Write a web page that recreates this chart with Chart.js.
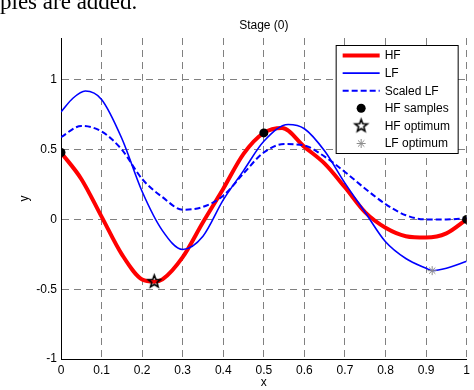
<!DOCTYPE html>
<html><head><meta charset="utf-8">
<script src="https://cdn.jsdelivr.net/npm/chart.js@4"></script>
<style>
html,body{margin:0;padding:0;background:#fff;}
#wrap{position:relative;width:474px;height:390px;overflow:hidden;background:#fff;}
#note{position:absolute;left:0;top:-11px;font-family:"Liberation Serif","Times New Roman",serif;font-size:23px;line-height:26px;color:#000;white-space:nowrap;}
canvas{position:absolute;left:0;top:0;}
</style></head>
<body><div id="wrap"><canvas id="c" width="474" height="390"></canvas><div id="note">ples are added.</div></div>
<script>
// ---- data ----
const hfX = [0,0.05,0.1,0.15,0.2,0.23,0.25,0.3,0.35,0.4,0.45,0.5,0.545,0.6,0.65,0.7,0.75,0.8,0.85,0.9,0.95,1];
const hfY = [0.48,0.29,0.02,-0.25,-0.43,-0.446,-0.43,-0.27,-0.02,0.22,0.47,0.62,0.655,0.52,0.40,0.23,0.05,-0.06,-0.12,-0.13,-0.10,0.0];

const lfX = [0,0.03,0.06,0.1,0.15,0.2,0.25,0.3,0.35,0.4,0.45,0.5,0.56,0.6,0.65,0.7,0.75,0.8,0.85,0.9,0.915,0.95,1];
const lfY = [0.77,0.87,0.92,0.86,0.58,0.20,-0.08,-0.215,-0.12,0.14,0.35,0.56,0.68,0.65,0.49,0.26,0.05,-0.16,-0.28,-0.35,-0.367,-0.35,-0.30];

const scaledX = [0,0.05,0.1,0.15,0.2,0.25,0.3,0.35,0.4,0.45,0.5,0.55,0.6,0.65,0.7,0.75,0.8,0.85,0.9,0.95,1];
const scaledY = [0.59,0.67,0.63,0.50,0.29,0.16,0.07,0.09,0.17,0.33,0.48,0.54,0.53,0.45,0.34,0.22,0.11,0.03,0.0,0.0,0.01];

const sampleX = [0,0.5,1];
const sampleY = [0.48,0.62,0.0];
const hfOptX = [0.23];
const hfOptY = [-0.446];
const lfOptX = [0.915];
const lfOptY = [-0.367];

const xTicks = [0,0.1,0.2,0.3,0.4,0.5,0.6,0.7,0.8,0.9,1];
const xTickLabels = ['0','0.1','0.2','0.3','0.4','0.5','0.6','0.7','0.8','0.9','1'];
const yTicks = [-1,-0.5,0,0.5,1];
const yTickLabels = ['-1','-0.5','0','0.5','1'];
const labels = ['HF','LF','Scaled LF','HF samples','HF optimum','LF optimum'];
const titleText = 'Stage (0)';

// ---- helpers ----
const toPts = (xs, ys) => xs.map((x, i) => ({x: x, y: ys[i]}));
function starImage(r, lw) {
  const s = Math.ceil(2 * r + lw * 2 + 2);
  const c = document.createElement('canvas'); c.width = s; c.height = s;
  const g = c.getContext('2d');
  g.beginPath();
  for (let i = 0; i < 10; i++) {
    const rad = i % 2 ? r * 0.42 : r;
    const a = -Math.PI / 2 + i * Math.PI / 5;
    const px = s / 2 + rad * Math.cos(a), py = s / 2 + rad * Math.sin(a);
    if (i) g.lineTo(px, py); else g.moveTo(px, py);
  }
  g.closePath(); g.lineWidth = lw; g.strokeStyle = '#000'; g.stroke();
  return c;
}
const starImg = starImage(6.5, 1.6);
function drawAsterisk(ctx, x, y, r, color) {
  ctx.save(); ctx.strokeStyle = color; ctx.lineWidth = 1; ctx.beginPath();
  for (let i = 0; i < 4; i++) {
    const a = i * Math.PI / 4;
    ctx.moveTo(x - r * Math.cos(a), y - r * Math.sin(a));
    ctx.lineTo(x + r * Math.cos(a), y + r * Math.sin(a));
  }
  ctx.stroke(); ctx.restore();
}

const legendPlugin = {
  id: 'insideLegend',
  afterDraw(chart) {
    const ctx = chart.ctx, ca = chart.chartArea;
    const w = 122, h = 108;
    const x0 = ca.right - 9 - w, y0 = ca.top + 7;
    ctx.save();
    ctx.fillStyle = '#fff'; ctx.fillRect(x0, y0, w, h);
    ctx.strokeStyle = '#000'; ctx.lineWidth = 1; ctx.strokeRect(x0 + 0.5, y0 + 0.5, w, h);
    ctx.font = '12px "Liberation Sans", Arial, sans-serif';
    ctx.textBaseline = 'middle'; ctx.textAlign = 'left';
    const ds = chart.data.datasets;
    for (let i = 0; i < ds.length; i++) {
      const d = ds[i];
      const cy = y0 + 10.5 + i * 17.6;
      const lx0 = x0 + 7, lx1 = x0 + 44, mx = (lx0 + lx1) / 2;
      if (d.showLine !== false) {
        ctx.save(); ctx.strokeStyle = d.borderColor; ctx.lineWidth = d.borderWidth;
        ctx.setLineDash(d.borderDash || []); ctx.beginPath();
        ctx.moveTo(lx0, cy); ctx.lineTo(lx1, cy); ctx.stroke(); ctx.restore();
      } else if (d.pointStyle === 'circle') {
        ctx.fillStyle = '#000'; ctx.beginPath(); ctx.arc(mx, cy, 4.5, 0, Math.PI * 2); ctx.fill();
      } else if (d.pointStyle === 'star') {
        drawAsterisk(ctx, mx, cy, 4.5, d.borderColor);
      } else {
        ctx.drawImage(starImg, mx - starImg.width / 2, cy - starImg.height / 2);
      }
      ctx.fillStyle = '#000';
      ctx.fillText(d.label, x0 + 49, cy + 0.5);
    }
    ctx.restore();
  }
};

const lineBase = {showLine: true, pointRadius: 0, cubicInterpolationMode: 'monotone', fill: false};

new Chart(document.getElementById('c'), {
  type: 'scatter',
  data: {
    datasets: [
      Object.assign({}, lineBase, {label: labels[0], data: toPts(hfX, hfY), borderColor: '#ff0000', borderWidth: 4, order: 5}),
      Object.assign({}, lineBase, {label: labels[1], data: toPts(lfX, lfY), borderColor: '#0000ff', borderWidth: 1.6, order: 4}),
      Object.assign({}, lineBase, {label: labels[2], data: toPts(scaledX, scaledY), borderColor: '#0000ff', borderWidth: 2, borderDash: [6, 3], order: 3}),
      {label: labels[3], data: toPts(sampleX, sampleY), showLine: false, pointStyle: 'circle', pointRadius: 4.5, backgroundColor: '#000', borderColor: '#000', borderWidth: 0, order: 2},
      {label: labels[4], data: toPts(hfOptX, hfOptY), showLine: false, pointStyle: starImg, pointRadius: 6, borderColor: '#000', order: 1},
      {label: labels[5], data: toPts(lfOptX, lfOptY), showLine: false, pointStyle: 'star', pointRadius: 4.5, borderColor: '#8c8c8c', backgroundColor: '#8c8c8c', borderWidth: 1, order: 0}
    ]
  },
  options: {
    responsive: false, animation: false, devicePixelRatio: 1,
    layout: {padding: {left: 0, right: 5, top: 0, bottom: 0}},
    font: {family: '"Liberation Sans", Arial, sans-serif', size: 12},
    plugins: {
      legend: {display: false}, tooltip: {enabled: false},
      title: {display: true, fullSize: false, text: titleText, color: '#000', font: {size: 12, weight: 'normal'}, padding: {top: 18, bottom: 5.6}}
    },
    scales: {
      x: {
        type: 'linear', min: 0, max: 1,
        afterBuildTicks: s => { s.ticks = xTicks.map(v => ({value: v})); },
        afterFit: s => { s.height = 31; },
        ticks: {color: '#000', padding: 4, maxRotation: 0, autoSkip: false, font: {size: 12}, callback: (v, i) => xTickLabels[i]},
        grid: {color: '#808080', lineWidth: 1, drawTicks: false},
        border: {display: true, color: '#000', width: 1, dash: [7, 5]},
        title: {display: true, text: 'x', color: '#000', font: {size: 12}, padding: {top: 0, bottom: 0}}
      },
      y: {
        type: 'linear', min: -1, max: 1.3,
        afterBuildTicks: s => { s.ticks = yTicks.map(v => ({value: v})); },
        afterFit: s => { s.width = 61; },
        ticks: {color: '#000', padding: 4, autoSkip: false, font: {size: 12}, callback: (v, i) => yTickLabels[i]},
        grid: {color: '#808080', lineWidth: 1, drawTicks: false},
        border: {display: true, color: '#000', width: 1, dash: [7, 5]},
        title: {display: true, text: 'y', color: '#000', font: {size: 12}, padding: {top: 17, bottom: 0}}
      }
    }
  },
  plugins: [legendPlugin]
});
</script></body></html>
